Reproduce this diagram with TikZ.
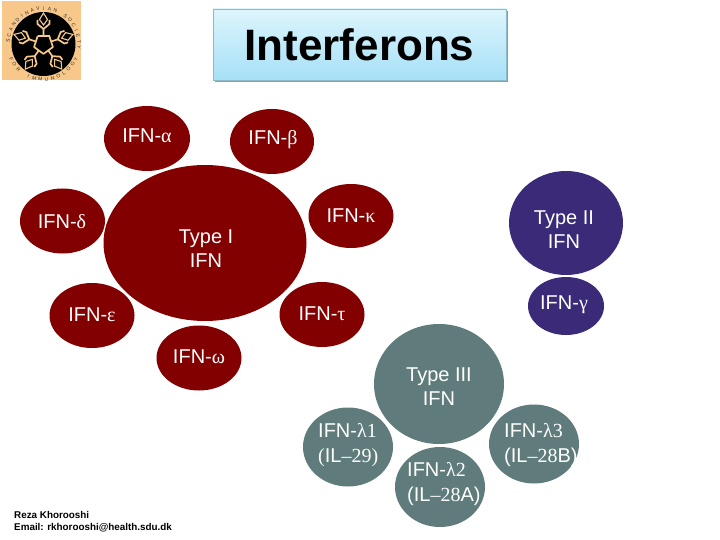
\documentclass[tikz,border=0pt]{standalone}
\usepackage{fontspec}
\setmainfont{Liberation Sans}
\newfontfamily\gk{Liberation Serif}
\usetikzlibrary{shapes.geometric}
\definecolor{typeone}{HTML}{830000}
\definecolor{typetwo}{HTML}{3A2A78}
\definecolor{typethree}{HTML}{5F7B7B}
\definecolor{peach}{HTML}{F8C88A}
\definecolor{titletop}{HTML}{DDF5FC}
\definecolor{titlebot}{HTML}{A6E0F7}
\definecolor{titleedge}{HTML}{8DB9C9}
\tikzset{
  txt/.style={text=white,font=\fontsize{20}{22}\selectfont,inner sep=0pt},
  txtl/.style={txt,anchor=west},
  arm/.style={draw=peach,line width=1.7pt,line join=miter},
  logoletter/.style={text=black!80,font=\fontsize{5}{6}\selectfont,inner sep=0pt},
}
\newcommand{\bubble}[6]{\node[shape=ellipse,fill=#6,inner sep=0pt,minimum width=#4pt,minimum height=#5pt] (#1) at (#2,#3) {};}
\begin{document}
\begin{tikzpicture}[x=1pt,y=-1pt]
\useasboundingbox (0,0) rectangle (720,540);
% logo
\fill[peach] (2,1) rectangle (81,80);
\node[shape=circle,fill=black,minimum size=64pt,inner sep=0pt] (logodisc) at (43.5,44) {};
\foreach \a in {0,72,144,216,288}{
  \begin{scope}[shift={(43.5,44)},rotate=\a]
    \draw[arm] (-6,-8) -- (6,-8);
    \draw[arm] (0,-8) -- (0,-15) -- (-6,-20) -- (-6,-24);
    \draw[arm] (0,-15) -- (6,-20) -- (6,-24);
    \draw[arm,line width=1.1pt] (0,-19) -- (-4,-24.5) -- (0,-31) -- (4,-24.5) -- cycle;
  \end{scope}
}
\foreach \c [count=\i] in {S,C,A,N,D,I,N,A,V,I,A,N,{},S,O,C,I,E,T,Y}{
  \pgfmathsetmacro{\ang}{175-9.5*(\i-1)}
  \node[logoletter,rotate=\ang-90] (top\i) at ({43.5+35.5*cos(\ang)},{44-35.5*sin(\ang)}) {\c};
}
\foreach \c [count=\i] in {F,O,R,{},I,M,M,U,N,O,L,O,G,Y}{
  \pgfmathsetmacro{\ang}{205+10*(\i-1)}
  \node[logoletter,rotate=\ang+90] (bot\i) at ({43.5+35.5*cos(\ang)},{44-35.5*sin(\ang)}) {\c};
}
% title
\fill[black!40] (215,11) rectangle (508,82);
\node[draw=titleedge,line width=0.8pt,top color=titletop,bottom color=titlebot,
  minimum width=293pt,minimum height=71pt,inner sep=0pt] (title) at (359.5,44.5)
  {\fontsize{44}{50}\selectfont\bfseries Interferons};
% type I
\bubble{t1}{205}{243}{203}{156}{typeone}
\bubble{alpha}{147}{138.5}{86}{65}{typeone}
\bubble{beta}{272}{141.5}{84}{65}{typeone}
\bubble{kappa}{351}{216}{85}{64}{typeone}
\bubble{tau}{322}{314.5}{85}{65}{typeone}
\bubble{omega}{199}{358}{85}{65}{typeone}
\bubble{eps}{92}{315.5}{85}{65}{typeone}
\bubble{delta}{62.5}{221}{85}{65}{typeone}
\node[txt,align=center] (t1t) at (206,249) {Type I\\[2pt]IFN};
\node[txt] (alphat) at (147,136) {IFN-{\gk α}};
\node[txt] (betat) at (273,140) {IFN-{\gk β}};
\node[txt] (kappat) at (351,216) {IFN-{\gk κ}};
\node[txt] (taut) at (322,314) {IFN-{\gk τ}};
\node[txt] (omegat) at (199,357) {IFN-{\gk ω}};
\node[txt] (epst) at (92,315) {IFN-{\gk ε}};
\node[txt] (deltat) at (62,222) {IFN-{\gk δ}};
% type II
\bubble{t2}{566}{223}{114}{104}{typetwo}
\bubble{gamma}{566}{306}{76}{58}{typetwo}
\node[txt,align=center] (t2t) at (564,230) {Type II\\[2pt]IFN};
\node[txt] (gammat) at (564,305) {IFN-{\gk γ}};
% type III
\bubble{t3}{439}{384}{130}{120}{typethree}
\bubble{l1}{348}{447}{90}{79}{typethree}
\bubble{l3}{534}{444}{90}{79}{typethree}
\bubble{l2}{440}{487}{90}{80}{typethree}
\node[txt,align=center] (t3t) at (439,387) {Type III\\[2pt]IFN};
\node[txtl,align=left] (l1t) at (318,445) {IFN-{\gk λ1}\\[3pt]{\gk(}IL{\gk –29)}};
\node[txtl,align=left] (l3t) at (504,445) {IFN-{\gk λ3}\\[3pt](IL{\gk –28}B)};
\node[txtl,align=left] (l2t) at (407,484.5) {IFN-{\gk λ2}\\[3pt](IL{\gk –28}A)};
% footer
\node[anchor=west,inner sep=0pt,align=left,font=\fontsize{9.85}{12}\selectfont\bfseries] (foot) at (14,522)
  {Reza Khorooshi\\Email: rkhorooshi@health.sdu.dk};
\end{tikzpicture}
\end{document}
